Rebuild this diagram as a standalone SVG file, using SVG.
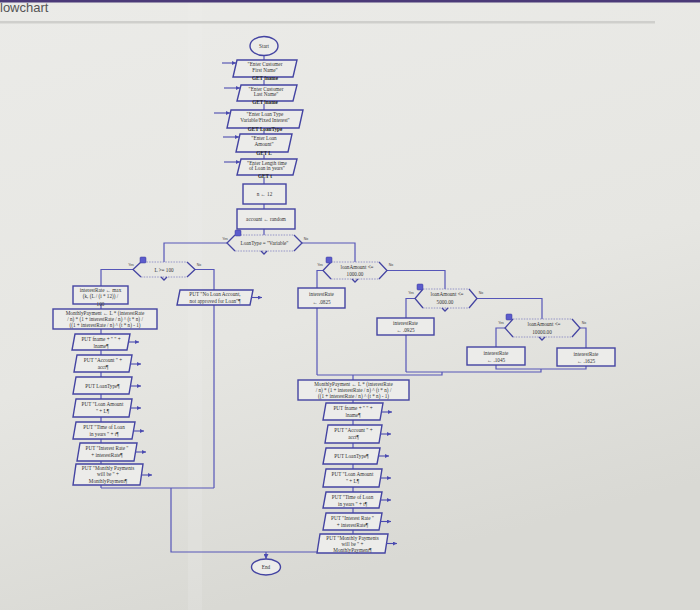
<svg xmlns="http://www.w3.org/2000/svg" width="700" height="610" viewBox="0 0 700 610">
<defs>
<linearGradient id="bg" x1="0" y1="0" x2="0.3" y2="1">
<stop offset="0" stop-color="#ebebe8"/>
<stop offset="0.6" stop-color="#e6e6e2"/>
<stop offset="1" stop-color="#d9d9d4"/>
</linearGradient>
<marker id="ar" viewBox="0 0 6 6" refX="6" refY="3" markerWidth="4" markerHeight="4" orient="auto" markerUnits="userSpaceOnUse">
<path d="M0,0 L6,3 L0,6 z" fill="#4b4bb0"/>
</marker>
<marker id="ar2" viewBox="0 0 6 6" refX="6" refY="3" markerWidth="5" markerHeight="5" orient="auto" markerUnits="userSpaceOnUse">
<path d="M0,0 L6,3 L0,6 z" fill="#4b4bb0"/>
</marker>
</defs>
<style>
.c{fill:none;stroke:#5656b8;stroke-width:1.2}
.io{fill:none;stroke:#4b4bb0;stroke-width:1.1}
.b{fill:#ececea;stroke:#4444a2;stroke-width:1.4}
.ds{fill:none;stroke:#4444a2;stroke-width:1.3}
.dd{fill:none;stroke:#8080c0;stroke-width:0.8;stroke-dasharray:1.5 1.2}
.t{font-family:"Liberation Serif",serif;font-size:5.2px;fill:#333;text-anchor:middle}
.g{font-family:"Liberation Serif",serif;font-size:5.2px;fill:#222;text-anchor:middle;font-weight:bold}
.y{font-family:"Liberation Sans",sans-serif;font-size:3.5px;fill:#444;text-anchor:middle}
.bp{fill:#5c5ccc;stroke:#3a3a9a;stroke-width:0.5}
</style>
<rect width="700" height="610" fill="url(#bg)"/>
<rect x="188" y="0" width="14" height="610" fill="#f0f0ee" opacity="0.2"/>
<rect x="0" y="0" width="700" height="2.5" fill="#4b3a78"/>
<text x="0" y="12" font-family="Liberation Sans, sans-serif" font-size="13" fill="#555">lowchart</text>
<rect x="0" y="21" width="655" height="2.5" fill="#cfcfcc"/>

<g id="connectors">
<path class="c" d="M264,55.5 V60 M264,80 V85 M264,104 V110 M264,131 V134 M264,155 V159 M264,178 V184 M264,204 V209 M264,229 V235"/>
<path class="c" d="M227,243 H164 V262 M302,243 H355 V262"/>
<path class="c" d="M133,269.5 H101 V286 M195,269.5 H214 V290 M214,305 V488"/>
<path class="c" d="M101,304 V309 M101,329 V334 M101,350 V355 M101,372 V377 M101,394 V399 M101,417 V422 M101,439 V443 M101,461 V464 M101,485 V488"/>
<path class="c" d="M101,488 H214 M171,488 V552 H353 M353,553 V552"/>
<path class="c" d="M266,552 V559" marker-end="url(#ar2)"/>
<path class="c" d="M323,270.5 H317 V288 M387,270.5 H445 V289 M317,308 V375"/>
<path class="c" d="M415,298.5 H406 V318 M477,298.5 H542 V319 M406,335 V372"/>
<path class="c" d="M505,328 H496 V347 M580,328 H586 V348 M496,365 V369 H586 V366 M541,369 V372 H406 M442,372 V375 H317 M353,375 V380"/>
<path class="c" d="M353,400 V403 M353,420 V425 M353,443 V448 M353,464 V469 M353,487 V492 M353,508 V513 M353,530 V534"/>
</g>

<g id="start"><ellipse class="b" cx="264" cy="46" rx="14" ry="9.5"/><text class="t" x="264" y="48">Start</text></g>

<g id="in-fname">
<path class="io" d="M222,63 H236" marker-end="url(#ar)"/>
<polygon class="b" points="237,60 297,60 293,77 233,77"/>
<text class="t" x="265" y="66">"Enter Customer</text><text class="t" x="265" y="72">First Name"</text><text class="g" x="265" y="79.5">GET fname</text>
</g>
<g id="in-lname">
<path class="io" d="M224,88 H240" marker-end="url(#ar)"/>
<polygon class="b" points="241,85 297,85 293,101 237,101"/>
<text class="t" x="266" y="90.5">"Enter Customer</text><text class="t" x="266" y="96">Last Name"</text><text class="g" x="265" y="103.5">GET lname</text>
</g>
<g id="in-loantype">
<path class="io" d="M214,113 H230" marker-end="url(#ar)"/>
<polygon class="b" points="231,110 303,110 299,128 227,128"/>
<text class="t" x="265" y="116">"Enter Loan Type</text><text class="t" x="265" y="122">Variable/Fixed Interest"</text><text class="g" x="265" y="130.5">GET LoanType</text>
</g>
<g id="in-amount">
<path class="io" d="M223,137 H239" marker-end="url(#ar)"/>
<polygon class="b" points="240,134 292,134 288,152 236,152"/>
<text class="t" x="264" y="140">"Enter Loan</text><text class="t" x="264" y="146">Amount"</text><text class="g" x="264" y="154.5">GET L</text>
</g>
<g id="in-length">
<path class="io" d="M224,162 H240" marker-end="url(#ar)"/>
<polygon class="b" points="241,159 297,159 293,175 237,175"/>
<text class="t" x="267" y="164.5">"Enter Length time</text><text class="t" x="267" y="170">of Loan in years"</text><text class="g" x="265" y="177.5">GET t</text>
</g>
<g id="set-n"><rect class="b" x="243" y="184" width="43" height="20"/><text class="t" x="264.5" y="196">n ← 12</text></g>
<g id="set-account"><rect class="b" x="237" y="209" width="58" height="20"/><text class="t" x="266" y="221">account ← random</text></g>

<g id="dec-loantype">
<path class="ds" d="M235,235 L227,243 L235,251 M294,235 L302,243 L294,251"/>
<path class="dd" d="M235,235 H294 M235,251 H294"/>
<path class="ds" d="M261,251 L264,254 L267,251" stroke-width="0.8"/>
<rect class="bp" x="235" y="230" width="6" height="6" rx="1"/>
<text class="t" x="264.5" y="245">LoanType = "Variable"</text>
<text class="y" x="225" y="240">Yes</text><text class="y" x="306" y="240">No</text>
</g>

<g id="dec-L100">
<path class="ds" d="M141,262 L133,269.5 L141,277 M187,262 L195,269.5 L187,277"/>
<path class="dd" d="M141,262 H187 M141,277 H187"/>
<path class="ds" d="M161,277 L164,280 L167,277" stroke-width="0.8"/>
<rect class="bp" x="140" y="257" width="6" height="6" rx="1"/>
<text class="t" x="164" y="271.5">L &gt;= 100</text>
<text class="y" x="131" y="266">Yes</text><text class="y" x="199" y="266">No</text>
</g>

<g id="set-rate-max"><rect class="b" x="73" y="286" width="55" height="18"/>
<text class="t" x="100.5" y="292">interestRate ← max</text><text class="t" x="100.5" y="298">(k, (L / (i * 12)) /</text><text class="t" x="100.5" y="305.5">100</text></g>
<g id="set-payment-l"><rect class="b" x="53" y="309" width="104" height="20"/>
<text class="t" x="105" y="315">MonthlyPayment ← L * (interestRate</text><text class="t" x="105" y="321">/ n) * (1 + interestRate / n) ^ (t * n) /</text><text class="t" x="105" y="327">((1 + interestRate / n) ^ (t * n) - 1)</text></g>
<g id="out-name-l"><polygon class="b" points="75,334 130,334 127,350 72,350"/><path class="io" d="M128,342 H139" marker-end="url(#ar)"/>
<text class="t" x="101" y="341">PUT fname + " " +</text><text class="t" x="101" y="348">lname¶</text></g>
<g id="out-acct-l"><polygon class="b" points="77,355 132,355 129,372 74,372"/><path class="io" d="M130,364 H141" marker-end="url(#ar)"/>
<text class="t" x="103" y="362">PUT "Account " +</text><text class="t" x="103" y="369">acct¶</text></g>
<g id="out-type-l"><polygon class="b" points="76,377 132,377 129,394 73,394"/><path class="io" d="M130,386 H141" marker-end="url(#ar)"/>
<text class="t" x="102.5" y="387.5">PUT LoanType¶</text></g>
<g id="out-amount-l"><polygon class="b" points="76,399 132,399 129,417 73,417"/><path class="io" d="M130,408 H141" marker-end="url(#ar)"/>
<text class="t" x="102.5" y="406">PUT "Loan Amount</text><text class="t" x="102.5" y="413">" + L¶</text></g>
<g id="out-time-l"><polygon class="b" points="76,422 135,422 132,439 73,439"/><path class="io" d="M133,431 H144" marker-end="url(#ar)"/>
<text class="t" x="104" y="429">PUT "Time of Loan</text><text class="t" x="104" y="436">in years " + t¶</text></g>
<g id="out-rate-l"><polygon class="b" points="80,443 137,443 134,461 77,461"/><path class="io" d="M135,452 H146" marker-end="url(#ar)"/>
<text class="t" x="107" y="450">PUT "Interest Rate "</text><text class="t" x="107" y="457">+ interestRate¶</text></g>
<g id="out-payment-l"><polygon class="b" points="76,464 143,464 140,485 73,485"/><path class="io" d="M141,475 H152" marker-end="url(#ar)"/>
<text class="t" x="108" y="470">PUT "Monthly Payments</text><text class="t" x="108" y="476">will be " +</text><text class="t" x="108" y="483">MonthlyPayment¶</text></g>

<g id="out-noloan"><polygon class="b" points="180,290 253,290 250,305 177,305"/><path class="io" d="M251,297.5 H262" marker-end="url(#ar)"/>
<text class="t" x="215" y="296">PUT "No Loan Account,</text><text class="t" x="215" y="302.5">not approved for Loan"¶</text></g>

<g id="dec-1000">
<path class="ds" d="M331,262 L323,270.5 L331,279 M379,262 L387,270.5 L379,279"/>
<path class="dd" d="M331,262 H379 M331,279 H379"/>
<path class="ds" d="M352,279 L355,282 L358,279" stroke-width="0.8"/>
<rect class="bp" x="326" y="257" width="6" height="6" rx="1"/>
<text class="t" x="357" y="268.5">loanAmount &lt;=</text><text class="t" x="355" y="275.5">1000.00</text>
<text class="y" x="320" y="266">Yes</text><text class="y" x="391" y="266">No</text>
</g>
<g id="set-rate-0825"><rect class="b" x="298" y="288" width="47" height="20"/>
<text class="t" x="321.5" y="296">interestRate</text><text class="t" x="321.5" y="303.5">← .0825</text></g>

<g id="dec-5000">
<path class="ds" d="M423,289 L415,298.5 L423,308 M469,289 L477,298.5 L469,308"/>
<path class="dd" d="M423,289 H469 M423,308 H469"/>
<path class="ds" d="M442,308 L445,311 L448,308" stroke-width="0.8"/>
<rect class="bp" x="417" y="284" width="6" height="6" rx="1"/>
<text class="t" x="447" y="296">loanAmount &lt;=</text><text class="t" x="445" y="303.5">5000.00</text>
<text class="y" x="411" y="294">Yes</text><text class="y" x="481" y="294">No</text>
</g>
<g id="set-rate-0925"><rect class="b" x="377" y="318" width="57" height="17"/>
<text class="t" x="405.5" y="325">interestRate</text><text class="t" x="405.5" y="332">← .0925</text></g>

<g id="dec-10000">
<path class="ds" d="M513,319 L505,328 L513,337 M572,319 L580,328 L572,337"/>
<path class="dd" d="M513,319 H572 M513,337 H572"/>
<path class="ds" d="M539,337 L542,340 L545,337" stroke-width="0.8"/>
<rect class="bp" x="506" y="314" width="6" height="6" rx="1"/>
<text class="t" x="544" y="326">loanAmount &lt;=</text><text class="t" x="542" y="333.5">10000.00</text>
<text class="y" x="501" y="324">Yes</text><text class="y" x="584" y="324">No</text>
</g>
<g id="set-rate-1045"><rect class="b" x="467" y="347" width="58" height="18"/>
<text class="t" x="496" y="354.5">interestRate</text><text class="t" x="496" y="361.5">← .1045</text></g>
<g id="set-rate-1625"><rect class="b" x="557" y="348" width="58" height="18"/>
<text class="t" x="586" y="355.5">interestRate</text><text class="t" x="586" y="362.5">← .1625</text></g>

<g id="set-payment-r"><rect class="b" x="298" y="380" width="111" height="20"/>
<text class="t" x="353.5" y="386">MonthlyPayment ← L * (interestRate</text><text class="t" x="353.5" y="392">/ n) * (1 + interestRate / n) ^ (t * n) /</text><text class="t" x="353.5" y="398">((1 + interestRate / n) ^ (t * n) - 1)</text></g>
<g id="out-name-r"><polygon class="b" points="326,403 383,403 380,420 323,420"/><path class="io" d="M381,412 H392" marker-end="url(#ar)"/>
<text class="t" x="353" y="410">PUT fname + " " +</text><text class="t" x="353" y="417">lname¶</text></g>
<g id="out-acct-r"><polygon class="b" points="328,425 382,425 379,443 325,443"/><path class="io" d="M380,434 H391" marker-end="url(#ar)"/>
<text class="t" x="353.5" y="432">PUT "Account " +</text><text class="t" x="353.5" y="439">acct¶</text></g>
<g id="out-type-r"><polygon class="b" points="326,448 380,448 377,464 323,464"/><path class="io" d="M378,456 H389" marker-end="url(#ar)"/>
<text class="t" x="351.5" y="458">PUT LoanType¶</text></g>
<g id="out-amount-r"><polygon class="b" points="326,469 382,469 379,487 323,487"/><path class="io" d="M380,478 H391" marker-end="url(#ar)"/>
<text class="t" x="352.5" y="476">PUT "Loan Amount</text><text class="t" x="352.5" y="483">" + L¶</text></g>
<g id="out-time-r"><polygon class="b" points="326,492 382,492 379,508 323,508"/><path class="io" d="M380,500 H391" marker-end="url(#ar)"/>
<text class="t" x="352.5" y="499">PUT "Time of Loan</text><text class="t" x="352.5" y="505.5">in years " + t¶</text></g>
<g id="out-rate-r"><polygon class="b" points="326,513 382,513 379,530 323,530"/><path class="io" d="M380,521.5 H391" marker-end="url(#ar)"/>
<text class="t" x="352.5" y="520">PUT "Interest Rate "</text><text class="t" x="352.5" y="527">+ interestRate¶</text></g>
<g id="out-payment-r"><polygon class="b" points="320,534 388,534 385,553 317,553"/><path class="io" d="M386,543.5 H397" marker-end="url(#ar)"/>
<text class="t" x="352.5" y="540">PUT "Monthly Payments</text><text class="t" x="352.5" y="545.5">will be " +</text><text class="t" x="352.5" y="551.5">MonthlyPayment¶</text></g>

<g id="end"><ellipse class="b" cx="266" cy="567" rx="14.5" ry="8"/><text class="t" x="266" y="569">End</text></g>
</svg>
